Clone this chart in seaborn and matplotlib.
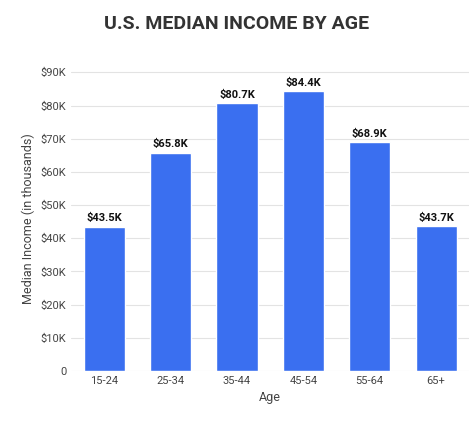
import matplotlib
matplotlib.use("Agg")
import matplotlib.pyplot as plt
import seaborn as sns
import pandas as pd

ages = ["15-24", "25-34", "35-44", "45-54", "55-64", "65+"]
income = [43.5, 65.8, 80.7, 84.4, 68.9, 43.7]
labels = ["$43.5K", "$65.8K", "$80.7K", "$84.4K", "$68.9K", "$43.7K"]
yticks = [0, 10, 20, 30, 40, 50, 60, 70, 80, 90]
yticklabels = ["0"] + [f"${v}K" for v in yticks[1:]]

sns.set_style("white")
plt.rcParams['font.family'] = ['Roboto', 'DejaVu Sans']
df = pd.DataFrame({"Age": ages, "Income": income})
fig = plt.figure(figsize=(4.74, 4.24), dpi=100)
ax = fig.add_axes([0.15, 0.125, 0.84, 0.72])
sns.barplot(data=df, x="Age", y="Income", color="#3a6ff0", saturation=1, width=0.62, ax=ax, zorder=3)
for i, (v, l) in enumerate(zip(income, labels)):
    ax.text(i, v + 1, l, ha="center", va="bottom", fontsize=8, fontweight="bold", color="#111111")
ax.set_ylim(0, 92)
ax.set_yticks(yticks)
ax.set_yticklabels(yticklabels)
ax.grid(axis="y", color="#e3e3e3", lw=0.8, zorder=0)
for s in ax.spines.values():
    s.set_visible(False)
ax.tick_params(axis="both", length=0, labelsize=8, colors="#444444")
ax.set_xlabel("Age", fontsize=9, color="#444444")
ax.set_ylabel("Median Income (in thousands)", fontsize=9, color="#444444")
fig.suptitle("U.S. MEDIAN INCOME BY AGE", y=0.965, fontsize=14, fontweight="bold", color="#333333")
fig.savefig("out.png", dpi=100)
